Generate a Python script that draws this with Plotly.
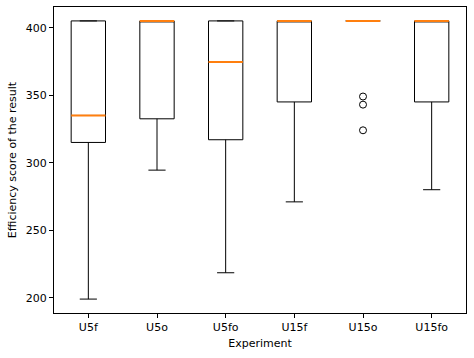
import plotly.graph_objects as go

categories = ["U5f", "U5o", "U5fo", "U15f", "U15o", "U15fo"]
q1 = [315, 332.5, 317, 345, 405, 345]
median = [335, 405, 374.5, 405, 405, 405]
q3 = [405, 405, 405, 405, 405, 405]
lower_whisker = [199, 294.5, 218.5, 271, 405, 280]
upper_whisker = [405, 405, 405, 405, 405, 405]
outlier_cat = ["U15o", "U15o", "U15o"]
outlier_vals = [349, 343, 324]

pos = list(range(1, len(categories) + 1))
half = 0.25

fig = go.Figure()
fig.add_trace(go.Box(
    x=pos, q1=q1, median=median, q3=q3,
    lowerfence=lower_whisker, upperfence=upper_whisker,
    width=0.5, whiskerwidth=0.5,
    line=dict(color="black", width=1),
    fillcolor="rgba(255,255,255,0)",
    boxpoints=False, showlegend=False, hoverinfo="skip",
))

mx, my = [], []
for p, m in zip(pos, median):
    mx += [p - half, p + half, None]
    my += [m, m, None]
fig.add_trace(go.Scatter(x=mx, y=my, mode="lines",
                         line=dict(color="#ff7f0e", width=2),
                         showlegend=False, hoverinfo="skip"))

ox = [pos[categories.index(c)] for c in outlier_cat]
fig.add_trace(go.Scatter(x=ox, y=outlier_vals, mode="markers",
                         marker=dict(symbol="circle-open", size=7,
                                     color="black", line=dict(width=1, color="black")),
                         showlegend=False, hoverinfo="skip"))

font = dict(family="DejaVu Sans", size=11, color="black")
fig.update_layout(
    width=474, height=358,
    margin=dict(l=54, r=8, t=7, b=45),
    plot_bgcolor="white", paper_bgcolor="white",
    font=font,
    xaxis=dict(range=[0.5, 6.5], tickmode="array", tickvals=pos, ticktext=categories,
               showgrid=False, zeroline=False, showline=True, linecolor="black",
               linewidth=1, mirror=True, ticks="outside", ticklen=4, tickcolor="black",
               title=dict(text="Experiment", font=font, standoff=6)),
    yaxis=dict(range=[188.7, 415.3], tickvals=[200, 250, 300, 350, 400],
               showgrid=False, zeroline=False, showline=True, linecolor="black",
               linewidth=1, mirror=True, ticks="outside", ticklen=4, tickcolor="black",
               title=dict(text="Efficiency score of the result", font=font, standoff=6)),
)

fig.write_html("out.html", config={"displayModeBar": False},
               post_script="document.body.style.margin='0';")
